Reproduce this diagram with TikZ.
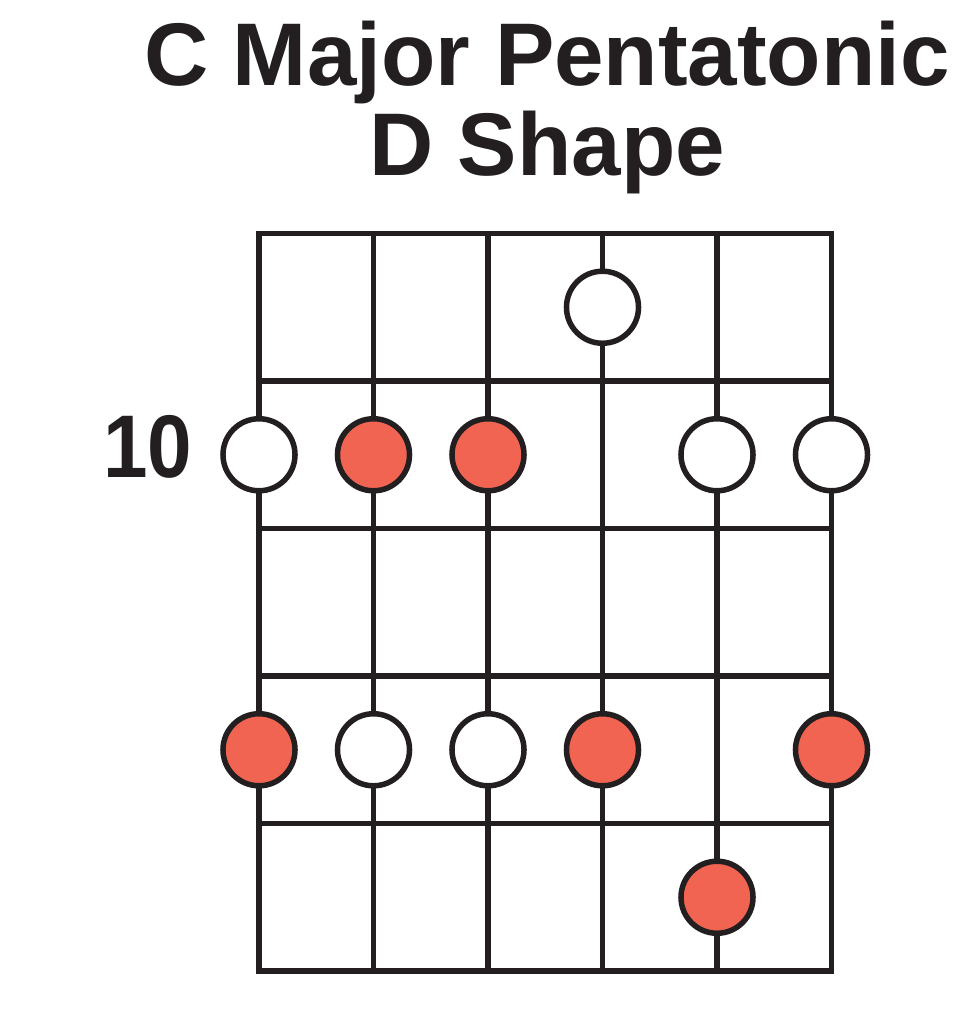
\documentclass[tikz,border=0pt]{standalone}
\usepackage{fontspec}
\setmainfont{Liberation Sans}
\definecolor{inkblack}{HTML}{231F20}
\definecolor{dotred}{HTML}{F26452}

\begin{document}
\begin{tikzpicture}[x=0.01cm, y=-0.01cm,
  fret/.style={inkblack, line width=0.055cm, line cap=rect},
  note/.style={circle, draw=inkblack, line width=0.055cm, fill=white, minimum size=0.72cm, inner sep=0pt},
  rootnote/.style={note, fill=dotred},
  titletext/.style={font=\fontsize{25.3}{30}\selectfont\bfseries, text=inkblack, inner sep=0pt, anchor=base}]
\useasboundingbox (0,0) rectangle (979,1024);
\node[titletext] (title1) at (547, 85) {C Major Pentatonic};
\node[titletext] (title2) at (547, 175) {D Shape};
\node[titletext] (fretnum) at (148, 477) {\scalebox{0.9}[1]{10}};
% strings and frets
\foreach \s in {0,...,5}
  \draw[fret] (259+\s*114.5, 233.5) -- (259+\s*114.5, 971);
\foreach \r in {0,...,5}
  \draw[fret] (259, 233.5+\r*147.5) -- (831.5, 233.5+\r*147.5);
% scale notes
\foreach \s/\r in {3/1, 0/2, 4/2, 5/2, 1/4, 2/4}
  \node[note] (dot-\s-\r) at (259+\s*114.5, 159.75+\r*147.5) {};
\foreach \s/\r in {1/2, 2/2, 0/4, 3/4, 5/4, 4/5}
  \node[rootnote] (dot-\s-\r) at (259+\s*114.5, 159.75+\r*147.5) {};
\end{tikzpicture}
\end{document}
